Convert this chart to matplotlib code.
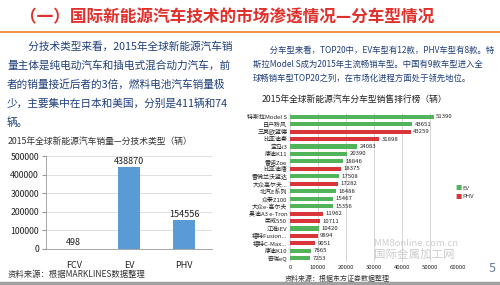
import matplotlib.pyplot as plt
import numpy as np

plt.rcParams['font.family'] = ['Noto Sans CJK SC', 'DejaVu Sans']

# left chart: sales by technology type
tech_types = ["FCV", "EV", "PHV"]
tech_sales = [498, 438870, 154556]

# right chart: top 20 models
models = ["特斯拉Model S", "日产聆风", "三菱欧蓝德", "比亚迪秦", "宝马i3", "康迪K11",
          "雷诺Zoe", "比亚迪唐", "雪佛兰沃蓝达", "大众高尔夫...", "北汽E系列", "众泰Z100",
          "大众e-高尔夫", "奥迪A3 e-Tron", "荣威550", "江淮iEV", "福特Fusion...",
          "福特C-Max...", "康迪K10", "奇瑞eQ"]
model_sales = [51390, 43651, 43259, 31898, 24083, 20390, 18846, 18375, 17508, 17282,
               16488, 15467, 15356, 11962, 10711, 10420, 9894, 9051, 7665, 7253]
model_type = ["EV", "EV", "PHV", "PHV", "EV", "EV", "EV", "PHV", "EV", "PHV",
              "EV", "EV", "EV", "PHV", "PHV", "EV", "PHV", "PHV", "EV", "EV"]

W, H = 500, 285
GREEN = "#52b45a"
RED = "#d9353a"
BLUE = "#5b9bd5"
TXT = "#1f3f7a"


def box(x0, y0, x1, y1):
    # pixel box (top-left origin) -> figure fraction
    return [x0 / W, 1 - y1 / H, (x1 - x0) / W, (y1 - y0) / H]


fig = plt.figure(figsize=(5, 2.85), dpi=100)
fig.patch.set_facecolor("white")

# title + rules
fig.text(20 / W, 1 - 17 / H, "（一）国际新能源汽车技术的市场渗透情况—分车型情况",
         color="#e0302c", fontsize=12, fontweight="bold", va="center", ha="left")
fig.add_artist(plt.Line2D([0, 1], [1 - 32 / H] * 2, color="#ec8a3c", lw=1.3))
fig.add_artist(plt.Line2D([0, 1], [1 - 283 / H] * 2, color="#a0a0a0", lw=2.5))

# left paragraph
left_lines = ["　　分技术类型来看，2015年全球新能源汽车销",
              "量主体是纯电动汽车和插电式混合动力汽车，前",
              "者的销量接近后者的3倍，燃料电池汽车销量极",
              "少，主要集中在日本和美国，分别是411辆和74",
              "辆。"]
for i, line in enumerate(left_lines):
    fig.text(7 / W, 1 - (47 + i * 18.8) / H, line, color=TXT, fontsize=7.7,
             va="center", ha="left")

# right paragraph
right_lines = ["　　分车型来看，TOP20中，EV车型有12款，PHV车型有8款。特",
               "斯拉Model S成为2015年主流畅销车型。中国有9款车型进入全",
               "球畅销车型TOP20之列，在市场化进程方面处于领先地位。"]
for i, line in enumerate(right_lines):
    fig.text(253 / W, 1 - (50 + i * 14) / H, line, color=TXT, fontsize=6.0,
             va="center", ha="left")

# ---- left bar chart ----
fig.text(8 / W, 1 - 141 / H, "2015年全球新能源汽车销量—分技术类型（辆）",
         fontsize=6.3, color="#333333", va="center", ha="left")
ax1 = fig.add_axes(box(46, 156, 212, 249))
x = np.arange(len(tech_types))
ax1.bar(x, tech_sales, width=0.4, color=BLUE, zorder=3)
for xi, v in zip(x, tech_sales):
    ax1.text(xi, v + 8000, str(v), ha="center", va="bottom", fontsize=6.5, color="#222222")
ax1.set_xlim(-0.5, 2.5)
ax1.set_ylim(0, 500000)
ax1.set_yticks(range(0, 500001, 100000))
ax1.set_yticklabels([str(v) for v in range(0, 500001, 100000)], fontsize=6.3, color="#222222")
ax1.set_xticks(x)
ax1.set_xticklabels(tech_types, fontsize=6.5, color="#222222")
ax1.tick_params(axis="x", length=0, pad=9)
ax1.tick_params(axis="y", length=3, color="#999999", pad=2)
ax1.grid(axis="y", color="#d9d9d9", lw=0.6, zorder=0)
for s in ["top", "right"]:
    ax1.spines[s].set_visible(False)
ax1.spines["left"].set_color("#999999")
ax1.spines["bottom"].set_color("#999999")
ax1.spines["left"].set_linewidth(0.6)
ax1.spines["bottom"].set_linewidth(0.6)
fig.text(8 / W, 1 - 275 / H, "资料来源：根据MARKLINES数据整理", fontsize=6,
         color="#333333", va="center", ha="left")

# ---- right ranking chart ----
fig.text(262 / W, 1 - 99 / H, "2015年全球新能源汽车分车型销售排行榜（辆）",
         fontsize=6.3, color="#222222", va="center", ha="left")
ax2 = fig.add_axes(box(290, 113, 458, 262))
y = np.arange(len(models))
colors = [GREEN if t == "EV" else RED for t in model_type]
ax2.barh(y, model_sales, height=0.55, color=colors, zorder=3)
for yi, v in zip(y, model_sales):
    ax2.text(v + 800, yi, str(v), va="center", ha="left", fontsize=4.3, color="#222222")
ax2.set_ylim(len(models) - 0.5, -0.5)
ax2.set_xlim(0, 60000)
ax2.set_yticks(y)
ax2.set_yticklabels(models, fontsize=4.3, color="#222222")
ax2.set_xticks(range(0, 60001, 10000))
ax2.set_xticklabels([str(v) for v in range(0, 60001, 10000)], fontsize=4.3, color="#222222")
ax2.tick_params(length=0, pad=2)
ax2.grid(axis="x", color="#d0d0d0", lw=0.6, zorder=0)
for s in ax2.spines.values():
    s.set_visible(False)

# legend
for i, (lab, c) in enumerate([("EV", GREEN), ("PHV", RED)]):
    ax_y = 1 - (188 + i * 9) / H
    fig.text(455 / W, ax_y, "■", color=c, fontsize=4.5, va="center", ha="left")
    fig.text(462 / W, ax_y, lab, color="#333333", fontsize=4.3, va="center", ha="left")

fig.text(285 / W, 1 - 279 / H, "资料来源：根据东方证券数据整理", fontsize=5,
         color="#333333", va="center", ha="left")

# watermark and page number
fig.text(374 / W, 1 - 243 / H, "MM8online.com.cn", fontsize=6.8, color="#c8c8c8",
         va="center", ha="left", alpha=0.9)
fig.text(374 / W, 1 - 254 / H, "国际金属加工网", fontsize=8.3, color="#c8c8c8",
         va="center", ha="left", alpha=0.9)
fig.text(492 / W, 1 - 268 / H, "5", fontsize=9, color="#6a7fa0", va="center", ha="center")

fig.savefig("out.png", dpi=100)
